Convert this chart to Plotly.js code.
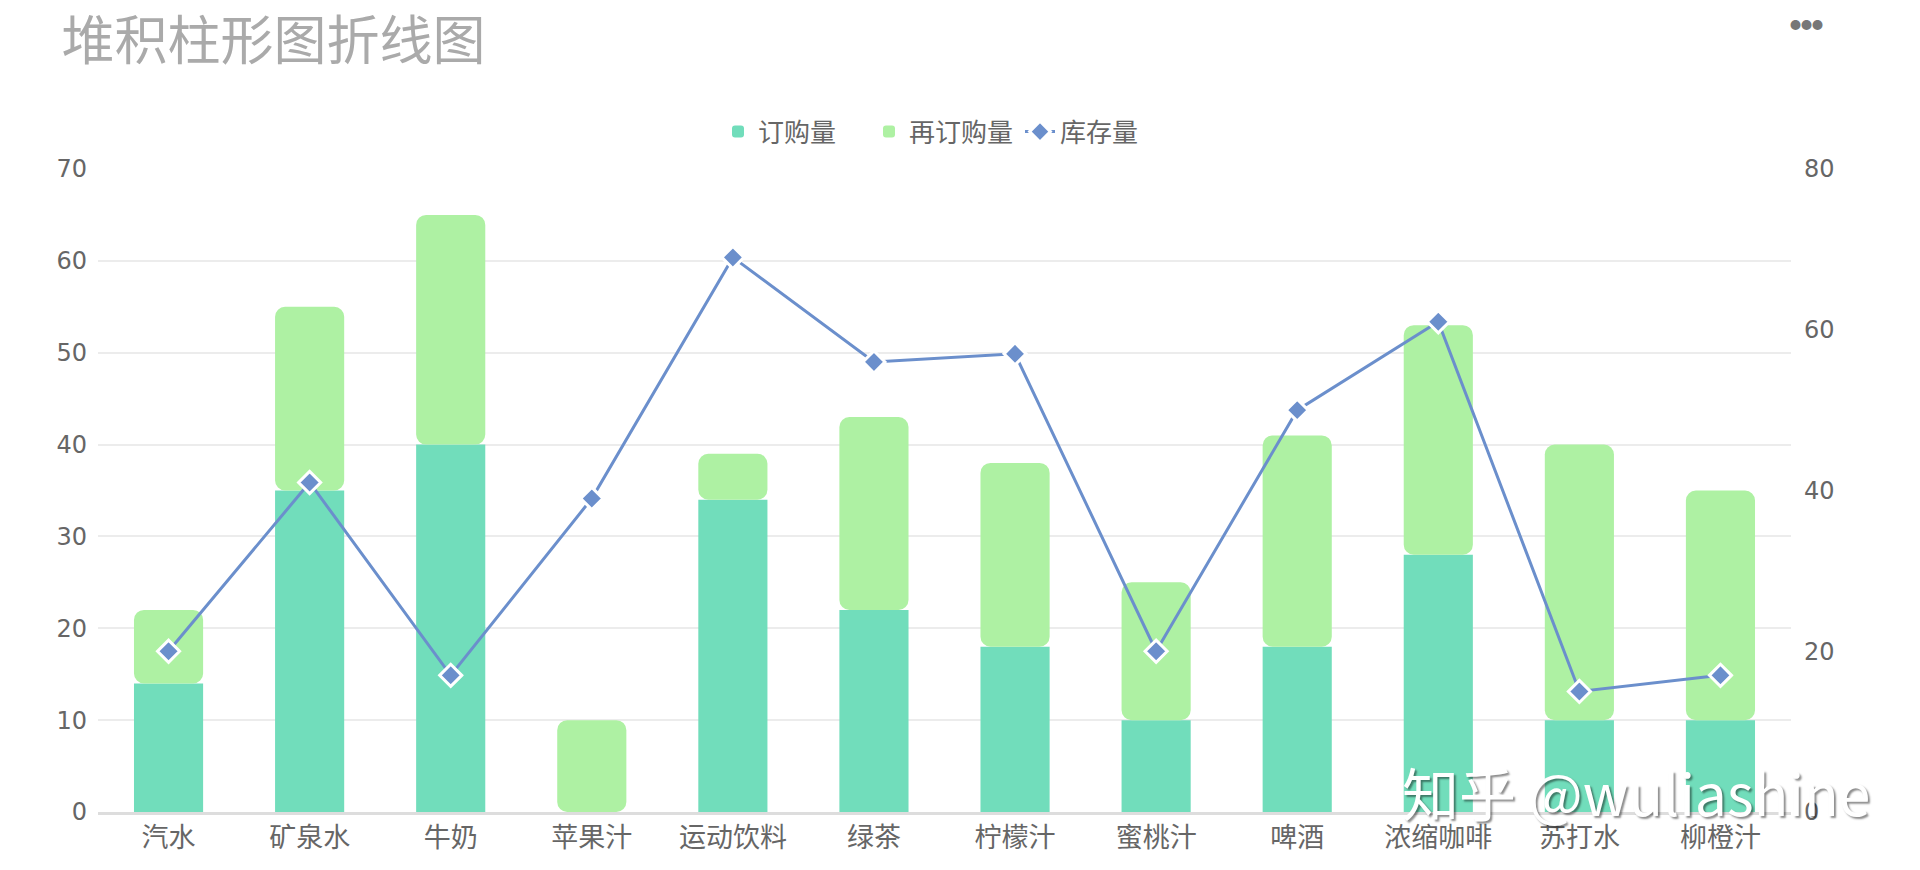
<!DOCTYPE html>
<html>
<head>
<meta charset="utf-8">
<script src="https://cdn.plot.ly/plotly-3.0.1.min.js"></script>
<style>
  html, body { margin: 0; padding: 0; background: #fff; }
  #chart { width: 1920px; height: 870px; }
</style>
</head>
<body>
<div id="chart"></div>
<script>
// 饮料类别
const categorias = ['汽水', '矿泉水', '牛奶', '苹果汁', '运动饮料', '绿茶', '柠檬汁', '蜜桃汁', '啤酒', '浓缩咖啡', '苏打水', '柳橙汁'];
// 订购量 / 再订购量 (左轴, 堆积)
const dingGou = [14, 35, 40, 0, 34, 22, 18, 10, 18, 28, 10, 10];
const zaiDingGou = [8, 20, 25, 10, 5, 21, 20, 15, 23, 25, 30, 25];
// 库存量 (右轴)
const kuCun = [20, 41, 17, 39, 69, 56, 57, 20, 50, 61, 15, 17];

const fonte = '"Noto Sans CJK SC", "Noto Sans", sans-serif';
const fonteNum = '"DejaVu Sans", "Noto Sans CJK SC", sans-serif';

const data = [
  {
    x: categorias,
    y: dingGou,
    name: '订购量',
    type: 'bar',
    marker: { color: '#71ddbb', cornerradius: 10 },
    hoverinfo: 'x+y+name'
  },
  {
    // empilhado à mão: cada segmento com cantos arredondados
    x: categorias,
    y: zaiDingGou,
    base: dingGou,
    name: '再订购量',
    type: 'bar',
    marker: { color: '#aef1a3', cornerradius: 10 },
    hoverinfo: 'x+y+name'
  },
  {
    x: categorias,
    y: kuCun,
    name: '库存量',
    type: 'scatter',
    mode: 'lines+markers',
    yaxis: 'y2',
    line: { color: '#6b8fcc', width: 3 },
    marker: { symbol: 'diamond', size: 17, color: '#6b8fcc', line: { color: '#fff', width: 3 } }
  }
];

const layout = {
  width: 1920,
  height: 870,
  barmode: 'overlay',
  bargap: 0.51,
  paper_bgcolor: '#fff',
  plot_bgcolor: '#fff',
  font: { family: fonte, color: '#666', size: 25 },
  margin: { l: 98, r: 129, t: 169, b: 58 },
  title: {
    text: '堆积柱形图折线图',
    x: 0.032,
    xanchor: 'left',
    y: 0.952,
    yanchor: 'middle',
    font: { family: fonte, size: 53, color: '#aaa' }
  },
  showlegend: true,
  legend: {
    orientation: 'h',
    x: 0.5,
    xanchor: 'center',
    y: 1.058,
    yanchor: 'middle',
    font: { family: fonte, size: 26, color: '#666' },
    itemwidth: 30,
    entrywidth: 106,
    traceorder: 'normal'
  },
  xaxis: {
    range: [-0.5, categorias.length - 0.5],
    showline: true,
    linecolor: '#ddd',
    linewidth: 3,
    showgrid: false,
    ticks: '',
    tickfont: { family: fonte, size: 27, color: '#666' }
  },
  yaxis: {
    range: [0, 70],
    dtick: 10,
    gridcolor: '#ececec',
    gridwidth: 1.5,
    zeroline: false,
    showline: false,
    ticks: '',
    ticklabelstandoff: 10,
    tickfont: { family: fonteNum, size: 24, color: '#666' }
  },
  yaxis2: {
    overlaying: 'y',
    side: 'right',
    range: [0, 80],
    dtick: 20,
    showgrid: false,
    zeroline: false,
    showline: false,
    ticks: '',
    ticklabelstandoff: 12,
    tickfont: { family: fonteNum, size: 24, color: '#666' }
  },
  annotations: [
    {
      text: '●●●',
      xref: 'paper', yref: 'paper',
      x: 1.009, y: 1.225,
      xanchor: 'center', yanchor: 'middle',
      showarrow: false,
      font: { family: fonte, size: 11, color: '#777' }
    },
    {
      text: '知乎 @wuliashine',
      xref: 'paper', yref: 'paper',
      x: 1.048, y: 0.033,
      xanchor: 'right', yanchor: 'middle',
      showarrow: false,
      font: { family: fonte, size: 57, color: '#ffffff', shadow: '2px 2px 2px rgba(0,0,0,0.45)' }
    }
  ]
};

Plotly.newPlot('chart', data, layout, { displayModeBar: false });
</script>
</body>
</html>
